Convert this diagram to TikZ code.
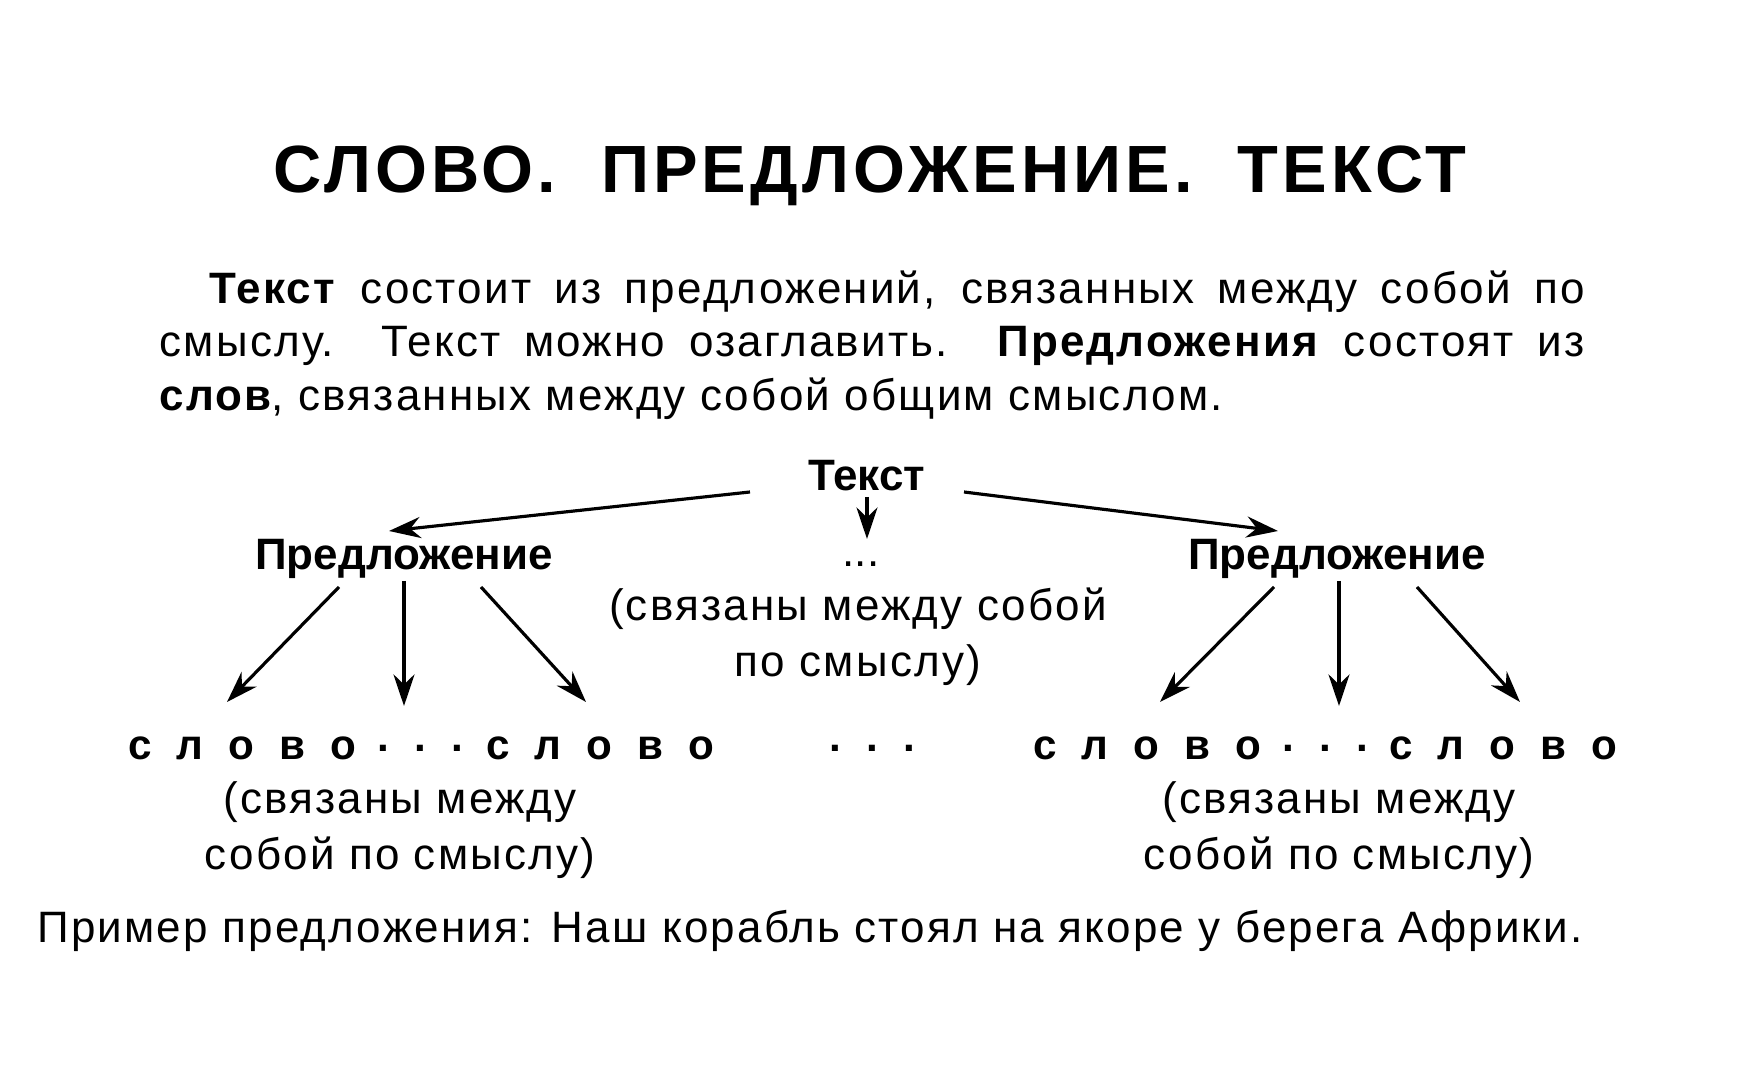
\documentclass[tikz,border=0pt]{standalone}
\usepackage{fontspec}
\setmainfont{Liberation Sans}
\usetikzlibrary{arrows.meta}
\begin{document}
\begin{tikzpicture}[x=0.01cm,y=-0.01cm,
  txt/.style={inner sep=0pt,font=\fontsize{12.5}{15}\selectfont},
  bold/.style={txt,font=\fontsize{12.5}{15}\selectfont\bfseries},
  sp/.style={bold,font=\fontsize{12}{15}\selectfont\bfseries\addfontfeature{LetterSpace=60}},
  arr/.style={-{Stealth[length=9pt,width=6pt]},line width=0.9pt}]
\useasboundingbox (0,0) rectangle (1744,1080);
\node[inner sep=0pt,font=\fontsize{19}{22}\selectfont\bfseries\addfontfeature{LetterSpace=6}] (title) at (870,176) {СЛОВО.\ \ ПРЕДЛОЖЕНИЕ.\ \ ТЕКСТ};
\node[txt,text width=14.24cm,align=justify,anchor=north west,font=\fontsize{12.5}{15.2}\selectfont\addfontfeature{LetterSpace=5}] (par) at (159,270)
 {\hspace*{0.5cm}\textbf{Текст} состоит из предложений, связанных между собой по смыслу. Текст можно озаглавить. \textbf{Предложения} состоят из \textbf{слов}, связанных между собой общим смыслом.};
\node[bold] (t) at (867,476) {Текст};
\node[bold] (p1) at (404,559) {Предложение};
\node[bold] (p2) at (1337,559) {Предложение};
\node[txt] (dm) at (861,564) {...};
\node[txt,align=center,font=\fontsize{12.5}{16}\selectfont\addfontfeature{LetterSpace=5}] (lm) at (858,637) {(связаны между собой\\по смыслу)};
\coordinate (a1) at (750,492); \coordinate (b1) at (389,531);
\coordinate (a2) at (964,492); \coordinate (b2) at (1278,531);
\coordinate (a3) at (867,497); \coordinate (b3) at (867,539);
\draw[arr] (a1) -- (b1);
\draw[arr] (a2) -- (b2);
\draw[arr] (a3) -- (b3);
\foreach \n/\sx/\sy/\ex/\ey in {l1/339/587/227/702, l2/404/581/404/706, l3/481/587/586/702, r1/1274/587/1160/702, r2/1339/581/1339/706, r3/1417/587/1520/702}{
  \coordinate (\n s) at (\sx,\sy); \coordinate (\n e) at (\ex,\ey);
  \draw[arr] (\n s) -- (\n e);}
\node[sp] (w1) at (242,748) {слово};
\node[sp] (d1) at (420,748) {...};
\node[sp] (w2) at (600,748) {слово};
\node[sp] (d2) at (872,748) {...};
\node[sp] (w3) at (1147,748) {слово};
\node[sp] (d3) at (1325,748) {...};
\node[sp] (w4) at (1503,748) {слово};
\node[txt,align=center,font=\fontsize{12.5}{16}\selectfont\addfontfeature{LetterSpace=5}] (ll) at (400,830) {(связаны между\\собой по смыслу)};
\node[txt,align=center,font=\fontsize{12.5}{16}\selectfont\addfontfeature{LetterSpace=5}] (lr) at (1339,830) {(связаны между\\собой по смыслу)};
\node[txt,anchor=east,font=\fontsize{12.5}{15}\selectfont\addfontfeature{LetterSpace=5}] (ex) at (1583,931) {Пример предложения: Наш корабль стоял на якоре у берега Африки.};
\end{tikzpicture}
\end{document}
